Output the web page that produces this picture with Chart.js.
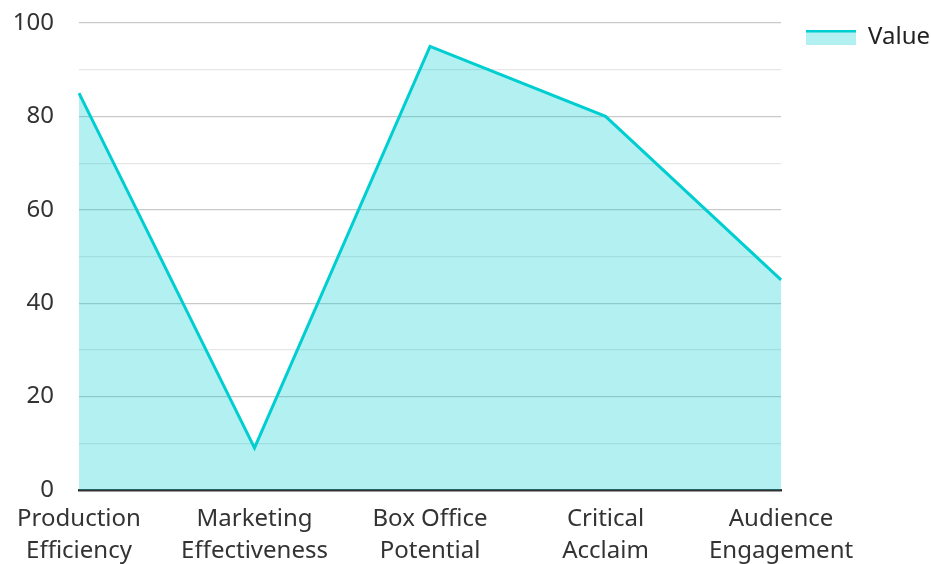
<!DOCTYPE html>
<html>
<head>
<meta charset="utf-8">
<script src="https://cdn.jsdelivr.net/npm/chart.js@4"></script>
<style>
  html, body { margin: 0; padding: 0; background: #fff; overflow: hidden; }
  #wrap { width: 931px; height: 564px; }
</style>
</head>
<body>
<div id="wrap"><canvas id="chart"></canvas></div>
<script>
const categories = [
  ["Production", "Efficiency"],
  ["Marketing", "Effectiveness"],
  ["Box Office", "Potential"],
  ["Critical", "Acclaim"],
  ["Audience", "Engagement"]
];
const values = [85, 9, 95, 80, 45];
const seriesName = "Value";

const lineColor = "#00CED1";
const fillColor = "rgba(0, 206, 209, 0.3)";

// legend swatch: fill with a line along the top
const swatch = document.createElement("canvas");
swatch.width = 50;
swatch.height = 15;
const sctx = swatch.getContext("2d");
sctx.fillStyle = fillColor;
sctx.fillRect(0, 0, 50, 15);
sctx.fillStyle = lineColor;
sctx.fillRect(0, 0, 50, 3);

Chart.defaults.font.family = "'Noto Sans', sans-serif";
Chart.defaults.color = "#333";

new Chart(document.getElementById("chart"), {
  type: "line",
  data: {
    labels: categories,
    datasets: [{
      label: seriesName,
      data: values,
      borderColor: lineColor,
      backgroundColor: fillColor,
      borderWidth: 3,
      fill: "origin",
      tension: 0,
      pointRadius: 0
    }]
  },
  options: {
    responsive: true,
    maintainAspectRatio: false,
    animation: false,
    layout: { padding: { top: 0, right: -9 } },
    plugins: {
      tooltip: { enabled: false },
      legend: {
        position: "right",
        align: "start",
        labels: {
          font: { size: 24 },
          usePointStyle: true,
          pointStyleWidth: 50,
          boxHeight: 15,
          padding: 25,
          generateLabels: (chart) => [{
            text: seriesName,
            pointStyle: swatch,
            fillStyle: fillColor,
            strokeStyle: lineColor,
            fontColor: "#222",
            lineWidth: 0,
            datasetIndex: 0
          }]
        }
      }
    },
    scales: {
      x: {
        offset: false,
        grid: { display: false, drawTicks: false },
        border: { color: "#333", width: 2.5 },
        ticks: {
          font: { size: 24, lineHeight: 1.35 },
          padding: 13,
          maxRotation: 0,
          autoSkip: false
        },
        afterFit: (scale) => {
          scale.height = 74;
          scale.paddingLeft = 0;
          scale.paddingRight = 0;
        }
      },
      y: {
        min: 0,
        max: 100,
        grid: {
          drawTicks: false,
          color: (ctx) => (ctx.tick && ctx.tick.value % 20 === 0) ? "#c9c9c9" : "#e6e6e6",
          lineWidth: 1.2
        },
        border: { display: false },
        ticks: {
          stepSize: 10,
          padding: 25,
          font: { size: 24 },
          callback: (v) => (v % 20 === 0 ? v : "")
        },
        afterFit: (scale) => {
          scale.width = 79;
          scale.paddingTop = 23;
          scale.paddingBottom = 0;
        }
      }
    }
  }
});
</script>
</body>
</html>
